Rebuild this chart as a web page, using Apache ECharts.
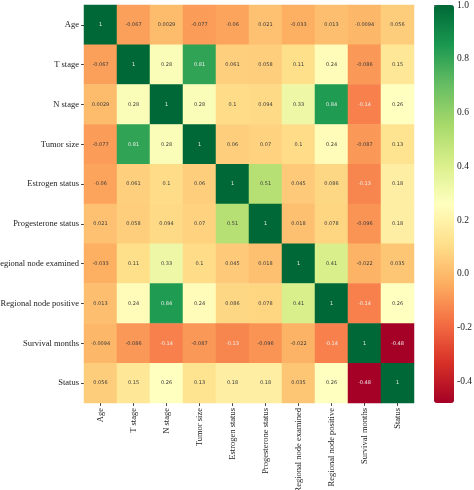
<!DOCTYPE html>
<html>
<head>
<meta charset="utf-8">
<script src="https://cdn.jsdelivr.net/npm/echarts@6/dist/echarts.min.js"></script>
<style>
  html, body { margin: 0; padding: 0; background: #fff; }
  #chart { width: 474px; height: 490px; }
</style>
</head>
<body>
<div id="chart"></div>
<script>
// variables del heatmap de correlación
const labels = [
  "Age", "T stage", "N stage", "Tumor size", "Estrogen status",
  "Progesterone status", "Regional node examined", "Regional node positive",
  "Survival months", "Status"
];

const rowAge = [1, -0.067, 0.0029, -0.077, -0.06, 0.021, -0.033, 0.013, -0.0094, 0.056];
const rowTStage = [-0.067, 1, 0.28, 0.81, 0.061, 0.058, 0.11, 0.24, -0.086, 0.15];
const rowNStage = [0.0029, 0.28, 1, 0.28, 0.1, 0.094, 0.33, 0.84, -0.14, 0.26];
const rowTumorSize = [-0.077, 0.81, 0.28, 1, 0.06, 0.07, 0.1, 0.24, -0.087, 0.13];
const rowEstrogen = [-0.06, 0.061, 0.1, 0.06, 1, 0.51, 0.045, 0.086, -0.13, 0.18];
const rowProgesterone = [0.021, 0.058, 0.094, 0.07, 0.51, 1, 0.018, 0.078, -0.096, 0.18];
const rowNodeExamined = [-0.033, 0.11, 0.33, 0.1, 0.045, 0.018, 1, 0.41, -0.022, 0.035];
const rowNodePositive = [0.013, 0.24, 0.84, 0.24, 0.086, 0.078, 0.41, 1, -0.14, 0.26];
const rowSurvival = [-0.0094, -0.086, -0.14, -0.087, -0.13, -0.096, -0.022, -0.14, 1, -0.48];
const rowStatus = [0.056, 0.15, 0.26, 0.13, 0.18, 0.18, 0.035, 0.26, -0.48, 1];

const colorbarTicks = [-0.4, -0.2, 0.0, 0.2, 0.4, 0.6, 0.8, 1.0];

const rows = [rowAge, rowTStage, rowNStage, rowTumorSize, rowEstrogen,
  rowProgesterone, rowNodeExamined, rowNodePositive, rowSurvival, rowStatus];

// [x, y, valor], texto blanco en celdas oscuras
const cells = [];
rows.forEach((row, y) => {
  row.forEach((v, x) => {
    cells.push({
      value: [x, y, v],
      label: { color: (v > 0.7 || v < -0.12) ? "#eeeeee" : "#3a3a3a" }
    });
  });
});

const fontFamily = "Liberation Serif";

const chart = echarts.init(document.getElementById("chart"));
chart.setOption({
  animation: false,
  backgroundColor: "#fff",
  grid: [
    { left: 84, top: 5, width: 330, height: 398, outerBoundsMode: "none" },
    { left: 434, top: 5, width: 20, height: 398, outerBoundsMode: "none" }
  ],
  xAxis: [
    {
      type: "category",
      data: labels,
      gridIndex: 0,
      axisLine: { show: false },
      axisTick: { show: true, alignWithLabel: true, length: 3, lineStyle: { color: "#444" } },
      axisLabel: { rotate: 90, fontFamily, fontSize: 8.5, color: "#222", margin: 5 },
      splitLine: { show: false }
    },
    { type: "value", gridIndex: 1, show: false, min: 0, max: 1 }
  ],
  yAxis: [
    {
      type: "category",
      data: labels,
      inverse: true,
      gridIndex: 0,
      axisLine: { show: false },
      axisTick: { show: true, alignWithLabel: true, length: 3, lineStyle: { color: "#444" } },
      axisLabel: { fontFamily, fontSize: 8.5, color: "#222", margin: 5 },
      splitLine: { show: false }
    },
    {
      type: "value",
      gridIndex: 1,
      position: "right",
      min: -0.48,
      max: 1,
      axisLine: { show: false },
      splitLine: { show: false },
      axisTick: { show: true, length: 3, customValues: colorbarTicks, lineStyle: { color: "#444" } },
      axisLabel: {
        customValues: colorbarTicks,
        fontFamily, fontSize: 9.5, color: "#222", margin: 3,
        formatter: (v) => v.toFixed(1)
      }
    }
  ],
  visualMap: {
    type: "continuous",
    seriesIndex: 0,
    min: -0.48,
    max: 1,
    calculable: false,
    orient: "vertical",
    left: 434,
    top: 5,
    padding: 0,
    itemWidth: 20,
    itemHeight: 398,
    text: null,
    inRange: {
      color: ["#a50026", "#d73027", "#f46d43", "#fdae61", "#fee08b", "#ffffbf",
        "#d9ef8b", "#a6d96a", "#66bd63", "#1a9850", "#006837"]
    }
  },
  series: [
    {
      type: "heatmap",
      xAxisIndex: 0,
      yAxisIndex: 0,
      data: cells,
      label: {
        show: true,
        fontSize: 5,
        fontFamily: "DejaVu Sans",
        formatter: (p) => String(p.value[2])
      },
      itemStyle: { borderWidth: 0 },
      emphasis: { disabled: true }
    },
    {
      type: "line",
      xAxisIndex: 1,
      yAxisIndex: 1,
      data: [],
      silent: true
    }
  ]
});
</script>
</body>
</html>
